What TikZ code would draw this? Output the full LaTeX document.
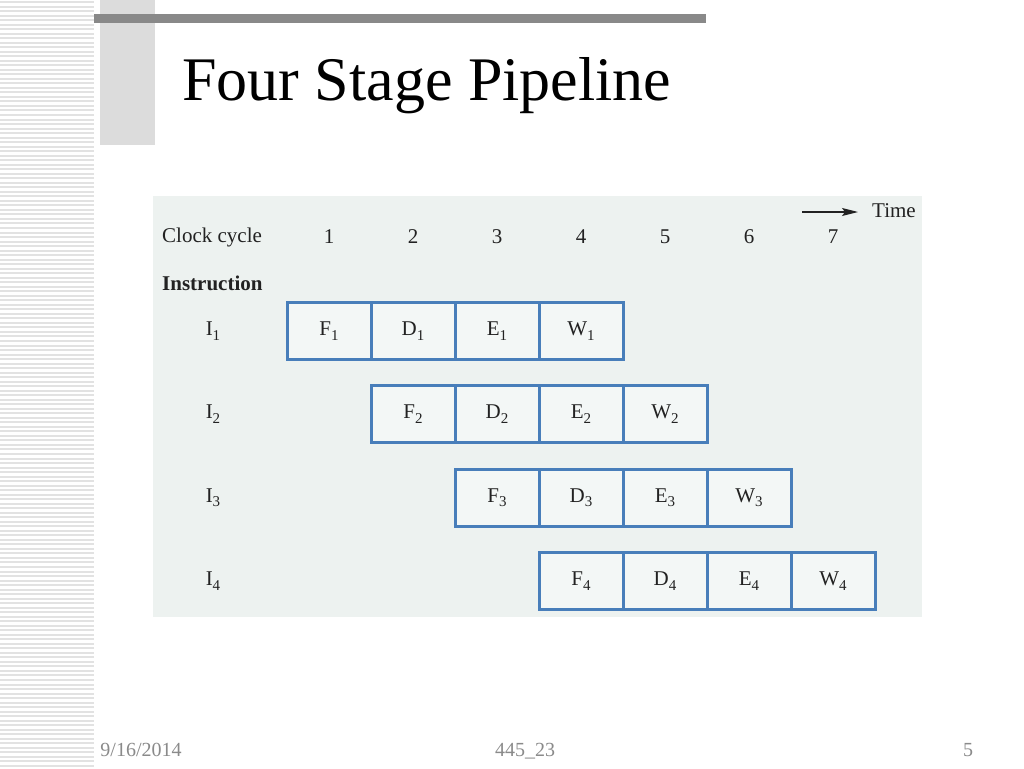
\documentclass[tikz,border=0pt]{standalone}
\usepackage{fontspec}
\setmainfont{Liberation Serif}
\usetikzlibrary{arrows.meta}
\definecolor{stripegray}{RGB}{226,226,226}
\definecolor{blockgray}{RGB}{220,220,220}
\definecolor{bargray}{RGB}{137,137,137}
\definecolor{scanbg}{RGB}{237,242,240}
\definecolor{cellfill}{RGB}{243,247,246}
\definecolor{boxblue}{RGB}{72,126,186}
\definecolor{inkgray}{RGB}{34,34,34}
\definecolor{footgray}{RGB}{138,138,138}
\newcommand{\lowsub}[1]{\raisebox{-4.5pt}{\fontsize{15}{15}\selectfont #1}}
\tikzset{
  cellbox/.style={draw=boxblue, line width=3pt, fill=cellfill, minimum width=84pt,
    minimum height=57pt, inner sep=0pt, text=inkgray, font=\fontsize{21}{21}\selectfont},
  scantext/.style={inner sep=0pt, text=inkgray, font=\fontsize{21}{21}\selectfont},
  foottext/.style={inner sep=0pt, text=footgray, font=\fontsize{20}{20}\selectfont, anchor=base},
}
\begin{document}
\begin{tikzpicture}[x=1pt,y=-1pt]
\useasboundingbox (0,0) rectangle (1024,768);
\fill[white] (0,0) rectangle (1024,768);
% left stripes
\foreach \k in {0,...,169} \fill[stripegray] (0,{4.52*\k+1}) rectangle (94,{4.52*\k+3});
% gray block and bar
\fill[blockgray] (100,0) rectangle (155,145);
\fill[bargray] (94,14) rectangle (706,23);
% title
\node[anchor=base west, inner sep=0pt, font=\fontsize{62}{62}\selectfont] (title) at (182,100) {Four Stage Pipeline};
% scanned figure background
\fill[scanbg] (153,196) rectangle (922,617);
\node[scantext, anchor=base west] (clock) at (162,242) {Clock cycle};
\node[scantext, anchor=base west, font=\fontsize{21}{21}\selectfont\bfseries] (instr) at (162,290) {Instruction};
\foreach \k in {1,...,7} \node[scantext, anchor=base] (c\k) at ({329+84*(\k-1)},243) {\k};
\node[scantext, anchor=base west] (time) at (872,217) {Time};
\coordinate (ts) at (802,212);
\coordinate (te) at (858,212);
\draw[line width=1.3pt, inkgray, -{Stealth[length=16pt,width=8pt,inset=3pt]}] (ts) -- (te);
% rows
\foreach \r in {1,...,4} {
  \pgfmathsetmacro{\ry}{331+83.3*(\r-1)}
  \node[scantext] (I\r) at (213,\ry) {I\lowsub{\r}};
  \node[cellbox] (F\r) at ({329+84*(\r-1)},\ry) {F\lowsub{\r}};
  \node[cellbox] (D\r) at ({329+84*\r},\ry) {D\lowsub{\r}};
  \node[cellbox] (E\r) at ({329+84*(\r+1)},\ry) {E\lowsub{\r}};
  \node[cellbox] (W\r) at ({329+84*(\r+2)},\ry) {W\lowsub{\r}};
}
% footer
\node[foottext] (date) at (141,756) {9/16/2014};
\node[foottext] (course) at (525,756) {445\_23};
\node[foottext] (page) at (968,756) {5};
\end{tikzpicture}
\end{document}
